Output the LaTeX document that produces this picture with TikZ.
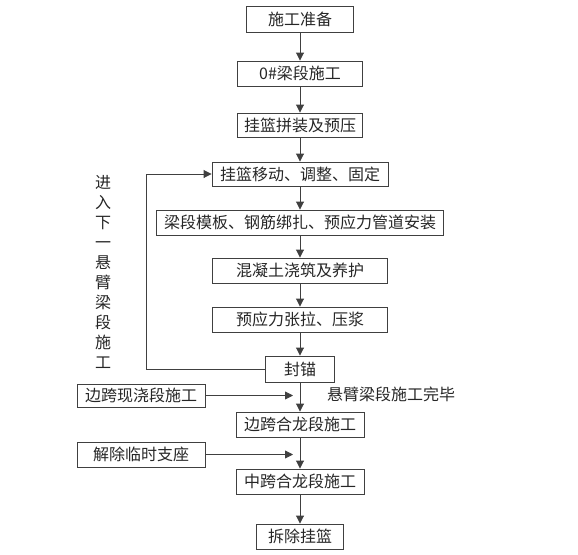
\documentclass[tikz,border=0pt]{standalone}
\usepackage{fontspec}
\newfontfamily\cjk{Noto Sans CJK SC}
\usetikzlibrary{arrows.meta}
\definecolor{lc}{RGB}{64,64,64}
\begin{document}
\begin{tikzpicture}[x=1pt,y=-1pt,
  box/.style={draw=lc, line width=0.9pt, inner sep=0pt, font=\cjk\fontsize{16}{18}\selectfont, text=black!85},
  arr/.style={draw=lc, line width=0.9pt, -{Triangle[width=8pt,length=8pt]}},
  ln/.style={draw=lc, line width=0.9pt}]
\useasboundingbox (0,0) rectangle (578,554);
\node[box, minimum width=107pt, minimum height=26pt] (a) at (300,19) {施工准备};
\node[box, minimum width=125pt, minimum height=25pt] (b) at (300,73.5) {0\#梁段施工};
\node[box, minimum width=125pt, minimum height=24pt] (c) at (300,125) {挂篮拼装及预压};
\node[box, minimum width=176pt, minimum height=24pt] (d) at (300,174) {挂篮移动、调整、固定};
\node[box, minimum width=287pt, minimum height=25pt] (e) at (300,222.5) {梁段模板、钢筋绑扎、预应力管道安装};
\node[box, minimum width=175pt, minimum height=25pt] (f) at (300,270.5) {混凝土浇筑及养护};
\node[box, minimum width=175pt, minimum height=25pt] (g) at (300,319.5) {预应力张拉、压浆};
\node[box, minimum width=69pt, minimum height=26pt] (h) at (300,369) {封锚};
\node[box, minimum width=128pt, minimum height=25pt] (i) at (300,424.5) {边跨合龙段施工};
\node[box, minimum width=128pt, minimum height=25pt] (j) at (300,481.5) {中跨合龙段施工};
\node[box, minimum width=87pt, minimum height=25pt] (k) at (300,536.5) {拆除挂篮};
\node[box, minimum width=128pt, minimum height=23pt] (s1) at (141,395.5) {边跨现浇段施工};
\node[box, minimum width=128pt, minimum height=25pt] (s2) at (141,454.5) {解除临时支座};
\node[font=\cjk\fontsize{16}{18}\selectfont, text=black!85, inner sep=0pt] (t) at (391,394) {悬臂梁段施工完毕};
\node[font=\cjk\fontsize{16}{20}\selectfont, text=black!85, inner sep=0pt, align=center] (v) at (103,272) {进\\入\\下\\一\\悬\\臂\\梁\\段\\施\\工};
\draw[arr] (a) -- (b);
\draw[arr] (b) -- (c);
\draw[arr] (c) -- (d);
\draw[arr] (d) -- (e);
\draw[arr] (e) -- (f);
\draw[arr] (f) -- (g);
\draw[arr] (g) -- (h);
\draw[arr] (h) -- (i);
\draw[arr] (i) -- (j);
\draw[arr] (j) -- (k);
\coordinate (lb) at (146,369);
\coordinate (lt) at (146,174);
\draw[arr] (h.west) -- (lb) -- (lt) -- (d.west);
\coordinate (e1) at (293,395.5);
\coordinate (e2) at (293,454.5);
\draw[arr] (s1.east) -- (e1);
\draw[arr] (s2.east) -- (e2);
\end{tikzpicture}
\end{document}
